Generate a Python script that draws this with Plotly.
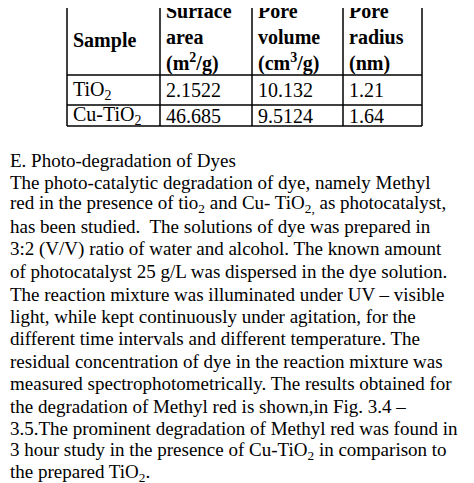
import plotly.graph_objects as go

# table data
headers = ["Sample", "Surface<br>area<br>(m<sup>2</sup>/g)", "Pore<br>volume<br>(cm<sup>3</sup>/g)", "Pore<br>radius<br>(nm)"]
samples = ["TiO<sub>2</sub>", "Cu-TiO<sub>2</sub>"]
surface_area = ["2.1522", "46.685"]
pore_volume = ["10.132", "9.5124"]
pore_radius = ["1.21", "1.64"]

heading = "E. Photo-degradation of Dyes"
body_lines = [
    "The photo-catalytic degradation of dye, namely Methyl",
    "red in the presence of tio<sub>2</sub> and Cu- TiO<sub>2,</sub> as photocatalyst,",
    "has been studied.  The solutions of dye was prepared in",
    "3:2 (V/V) ratio of water and alcohol. The known amount",
    "of photocatalyst 25 g/L was dispersed in the dye solution.",
    "The reaction mixture was illuminated under UV \u2013 visible",
    "light, while kept continuously under agitation, for the",
    "different time intervals and different temperature. The",
    "residual concentration of dye in the reaction mixture was",
    "measured spectrophotometrically. The results obtained for",
    "the degradation of Methyl red is shown,in Fig. 3.4 \u2013",
    "3.5.The prominent degradation of Methyl red was found in",
    "3 hour study in the presence of Cu-TiO<sub>2</sub> in comparison to",
    "the prepared TiO<sub>2</sub>.",
]

FONT = "Liberation Serif, Times New Roman, serif"
col_x = [59, 152, 244, 335, 414]
row_y = [-5, 67, 97, 118]

fig = go.Figure()
shapes = []
for x in col_x:
    shapes.append(dict(type="line", x0=x, x1=x, y0=row_y[0], y1=row_y[-1],
                       line=dict(color="black", width=1.5)))
for y in row_y[1:]:
    shapes.append(dict(type="line", x0=col_x[0], x1=col_x[-1], y0=y, y1=y,
                       line=dict(color="black", width=1.5)))

ann = []
for i, h in enumerate(headers):
    ann.append(dict(x=col_x[i] + 4, y=29 if i else 32, text="<b>%s</b>" % h,
                    xanchor="left", yanchor="middle", align="left",
                    font=dict(family=FONT, size=20, color="black")))
rows = list(zip(samples, surface_area, pore_volume, pore_radius))
for r, vals in enumerate(rows):
    yc = (row_y[r + 1] + row_y[r + 2]) / 2
    for i, v in enumerate(vals):
        ann.append(dict(x=col_x[i] + 4, y=yc, text=v, xanchor="left", yanchor="middle",
                        font=dict(family=FONT, size=20, color="black")))

ann.append(dict(x=0, y=152, text=heading, xanchor="left", yanchor="middle",
                font=dict(family=FONT, size=19, color="black")))
for k, line in enumerate(body_lines):
    ann.append(dict(x=0, y=174 + k * 22.4, text=line, xanchor="left", yanchor="middle",
                    font=dict(family=FONT, size=19, color="black")))

for a in ann:
    a["showarrow"] = False
fig.update_layout(
    width=474, height=483, margin=dict(l=0, r=0, t=0, b=0),
    paper_bgcolor="white", plot_bgcolor="white",
    xaxis=dict(range=[0, 474], visible=False, fixedrange=True),
    yaxis=dict(range=[483, 0], visible=False, fixedrange=True),
    shapes=shapes, annotations=ann, showlegend=False,
)
fig.write_html("out.html")
